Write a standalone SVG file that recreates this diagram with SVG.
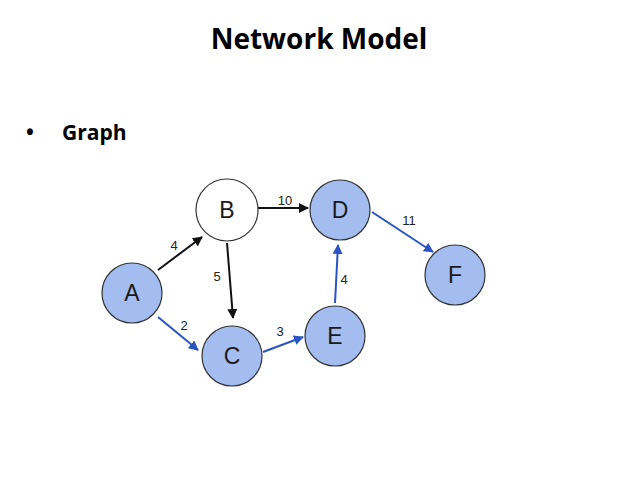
<svg xmlns="http://www.w3.org/2000/svg" width="638" height="478" viewBox="0 0 638 478">
<style>
.n{stroke:#333;stroke-width:1.2}
.b{fill:#a4bdf0}
.w{fill:#fff}
.t{font-family:"Liberation Sans",Arial,sans-serif;font-size:23px;fill:#1a1a1a;text-anchor:middle}
.l{font-family:"Liberation Sans",Arial,sans-serif;font-size:13px;fill:#222;text-anchor:middle}
.k{stroke:#111;stroke-width:2;marker-end:url(#ak)}
.u{stroke:#2a54c4;stroke-width:2;marker-end:url(#au)}
</style>
<defs>
<marker id="ak" viewBox="0 0 10 10" refX="9" refY="5" markerWidth="5" markerHeight="5" orient="auto"><path d="M0,0L10,5L0,10z" fill="#111"/></marker>
<marker id="au" viewBox="0 0 10 10" refX="9" refY="5" markerWidth="5" markerHeight="5" orient="auto"><path d="M0,0L10,5L0,10z" fill="#2a54c4"/></marker>
</defs>
<rect width="638" height="478" fill="#fff"/>
<text x="319" y="49" font-family="'Open Sans','Liberation Sans',sans-serif" font-weight="bold" font-size="28" text-anchor="middle">Network Model</text>
<text x="26" y="140" font-family="'Open Sans','Liberation Sans',sans-serif" font-weight="bold" font-size="21">•</text>
<text x="62" y="140" font-family="'Open Sans','Liberation Sans',sans-serif" font-weight="bold" font-size="21">Graph</text>
<g id="connectors">
<line class="k" x1="158" y1="270" x2="202" y2="237"/>
<line class="u" x1="158" y1="317" x2="198" y2="350"/>
<line class="k" x1="258" y1="208" x2="308" y2="208"/>
<line class="k" x1="227" y1="243" x2="233" y2="318"/>
<line class="u" x1="263" y1="352" x2="303" y2="337"/>
<line class="u" x1="335" y1="303" x2="338" y2="245"/>
<line class="u" x1="372" y1="212" x2="433" y2="252"/>
<text class="l" x="174" y="250">4</text>
<text class="l" x="217" y="281">5</text>
<text class="l" x="184" y="330">2</text>
<text class="l" x="285" y="205">10</text>
<text class="l" x="280" y="336">3</text>
<text class="l" x="344" y="284">4</text>
<text class="l" x="409" y="225">11</text>
</g>
<g id="A"><circle class="n b" cx="132" cy="293" r="30"/><text class="t" x="132" y="301">A</text></g>
<g id="B"><circle class="n w" cx="227" cy="210" r="31"/><text class="t" x="227" y="218">B</text></g>
<g id="C"><circle class="n b" cx="232" cy="356" r="30"/><text class="t" x="232" y="364">C</text></g>
<g id="D"><circle class="n b" cx="340" cy="210" r="30"/><text class="t" x="340" y="218">D</text></g>
<g id="E"><circle class="n b" cx="335" cy="336" r="30"/><text class="t" x="335" y="344">E</text></g>
<g id="F"><circle class="n b" cx="455" cy="275" r="30"/><text class="t" x="455" y="283">F</text></g>
</svg>
